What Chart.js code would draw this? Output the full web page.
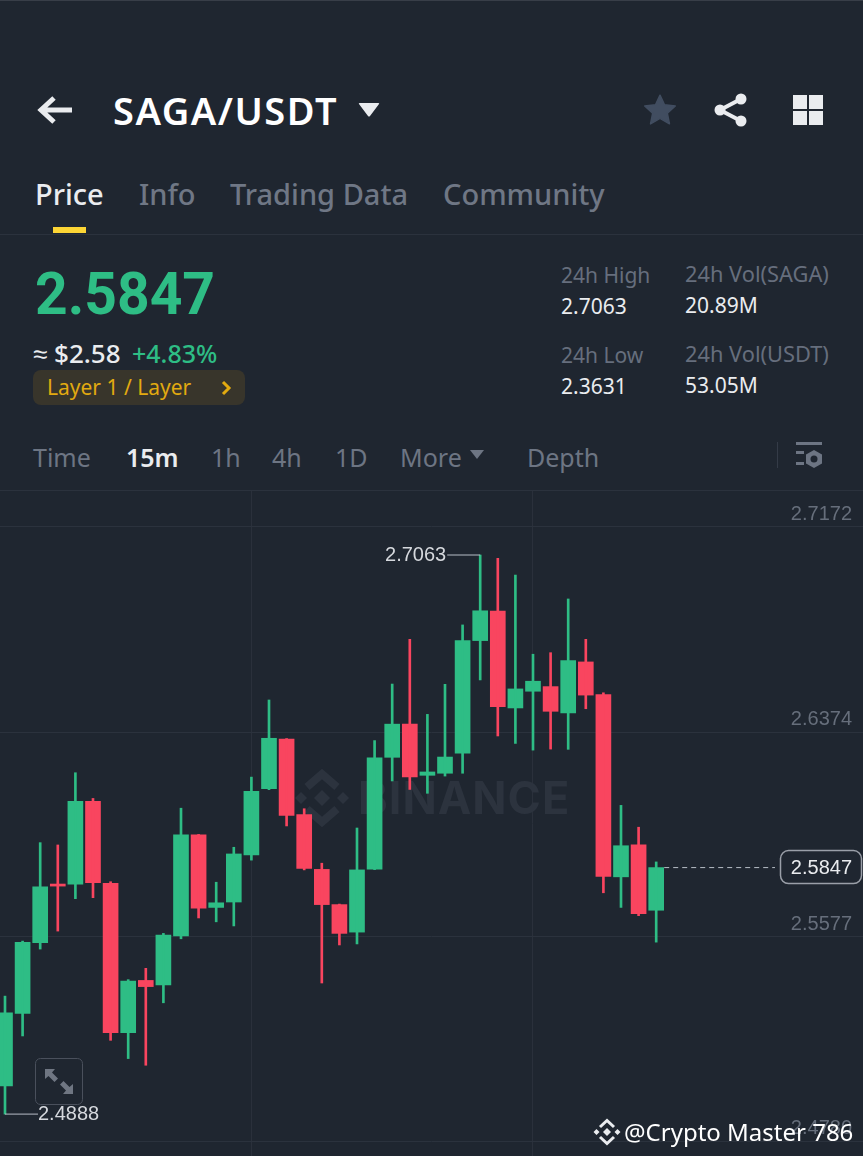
<!DOCTYPE html>
<html>
<head>
<meta charset="utf-8">
<script src="https://cdn.jsdelivr.net/npm/chart.js@4"></script>
<style>
  html, body { margin: 0; padding: 0; background: #1f2630; }
  body { position: relative; width: 863px; height: 1156px; overflow: hidden; font-family: "Noto Sans", sans-serif; }
  .t { position: absolute; transform: translateY(-50%); line-height: 1; white-space: nowrap; }
  .rule { position: absolute; left: 0; width: 863px; height: 1px; background: #2b323d; }
  svg { position: absolute; }
  #chart { position: absolute; left: 0; top: 491px; }
  .tab { font-size: 29px; color: #6f7785; font-weight: 500; }
  .lab { font-size: 21.8px; color: #666e7d; }
  .val { font-size: 21px; color: #eaecef; font-weight: 400; }
  .tf { font-size: 25px; color: #6d7583; }
</style>
</head>
<body>

<div class="rule" style="top:0;background:#383e48"></div>
<svg style="left:36px;top:94px" width="40" height="32" viewBox="0 0 40 32"><path d="M18 4 L5 16 L18 28 M5 16 H36" fill="none" stroke="#eaecef" stroke-width="5"/></svg>
<div class="t" style="left:113px;top:110px;font-size:38px;font-weight:600;color:#fff;letter-spacing:1.5px">SAGA/USDT</div>
<svg style="left:358px;top:102px" width="22" height="16"><path d="M1 2 Q0 1 2 1 H20 Q22 1 21 2 L12 14 Q11 15 10 14 Z" fill="#eaecef"/></svg>
<svg style="left:643px;top:93px" width="34" height="34" viewBox="0 0 24 24"><path d="M12 1.5 L15.2 8.3 L22.8 9.2 L17.2 14.3 L18.7 21.8 L12 18 L5.3 21.8 L6.8 14.3 L1.2 9.2 L8.8 8.3 Z" fill="#414d60" stroke="#414d60" stroke-linejoin="round"/></svg>
<svg style="left:714px;top:93px" width="34" height="34" viewBox="0 0 34 34"><path d="M27 6 L6 17 L27 28" fill="none" stroke="#eaecef" stroke-width="4"/><circle cx="27" cy="6" r="5.5" fill="#eaecef"/><circle cx="27" cy="28" r="5.5" fill="#eaecef"/><circle cx="6" cy="17" r="5.5" fill="#eaecef"/></svg>
<svg style="left:793px;top:95px" width="31" height="31"><path d="M0 0h14v14H0zM16 0h14v14H16zM0 16h14v14H0zM16 16h14v14H16z" fill="#eaecef"/></svg>

<div class="t tab" style="left:35px;top:193px;color:#eaecef">Price</div>
<div class="t tab" style="left:139px;top:193px">Info</div>
<div class="t tab" style="left:230px;top:193px">Trading Data</div>
<div class="t tab" style="left:443px;top:193px">Community</div>
<div style="position:absolute;left:53px;top:227px;width:33px;height:6px;background:#fcd535"></div>
<div class="rule" style="top:234px"></div>

<div class="t" style="left:35px;top:294px;font-family:Roboto;font-size:60px;font-weight:700;color:#2ebd85;transform:translateY(-50%) scaleX(.95);transform-origin:left">2.5847</div>
<div class="t" style="left:33px;top:353px;font-size:26px;font-weight:500;color:#eaecef">≈ $2.58</div>
<div class="t" style="left:132px;top:353px;font-size:25px;font-weight:500;color:#2ebd85">+4.83%</div>
<div style="position:absolute;left:33px;top:370px;width:212px;height:35px;border-radius:8px;background:#38352b"></div>
<div class="t" style="left:47px;top:387px;font-size:21px;color:#e2aa10">Layer 1 / Layer</div>
<svg style="left:221px;top:380px" width="12" height="16"><path d="M2 2 L8 8 L2 14" fill="none" stroke="#e2aa10" stroke-width="3"/></svg>

<div class="t lab" style="left:561px;top:275px;font-size:21px">24h High</div>
<div class="t val" style="left:561px;top:306px">2.7063</div>
<div class="t lab" style="left:561px;top:355px;font-size:21px">24h Low</div>
<div class="t val" style="left:561px;top:386px">2.3631</div>
<div class="t lab" style="left:685px;top:274px">24h Vol(SAGA)</div>
<div class="t val" style="left:685px;top:305px">20.89M</div>
<div class="t lab" style="left:685px;top:354px">24h Vol(USDT)</div>
<div class="t val" style="left:685px;top:385px">53.05M</div>

<div class="t tf" style="left:33px;top:457px">Time</div>
<div class="t tf" style="left:126px;top:457px;color:#eaecef;font-weight:600">15m</div>
<div class="t tf" style="left:211px;top:457px">1h</div>
<div class="t tf" style="left:272px;top:457px">4h</div>
<div class="t tf" style="left:335px;top:457px">1D</div>
<div class="t tf" style="left:400px;top:457px">More</div>
<svg style="left:469px;top:449px" width="16" height="12"><path d="M1 1 H15 L8 10 Z" fill="#6d7583"/></svg>
<div class="t tf" style="left:527px;top:457px">Depth</div>
<div style="position:absolute;left:777px;top:442px;width:1px;height:26px;background:#343b47"></div>
<svg style="left:796px;top:442px" width="27" height="28"><path d="M0 0h26v3H0zM0 9h8v3H0zM0 20h8v3H0z" fill="#6d7583"/><path d="M18 8 L26 12.5 V21.5 L18 26 L10 21.5 V12.5 Z" fill="#6d7583"/><circle cx="18" cy="17" r="3.5" fill="#1f2630"/></svg>
<div class="rule" style="top:490px"></div>

<canvas id="chart" width="863" height="665"></canvas>

<svg style="left:35px;top:1058px" width="49" height="48"><rect x="0.5" y="0.5" width="47" height="46" rx="5" fill="#1f2630" stroke="#4a505c"/><path d="M10 11 H20 L17 14.5 L23 20.5 L19.5 24 L13.5 18 L10 21 Z M38 36 H28 L31 32.5 L25 26.5 L28.5 23 L34.5 29 L38 26 Z" fill="#6f7682"/></svg>

<svg style="left:592px;top:1117px" width="30" height="30" viewBox="0 0 30 30"><g fill="none" stroke="#eaecef" stroke-width="3"><path d="M8 10 L15 3.5 L22 10"/><path d="M8 20 L15 26.5 L22 20"/></g><path d="M15 11 L19 15 L15 19 L11 15 Z M4.5 12 L7.5 15 L4.5 18 L1.5 15 Z M25.5 12 L28.5 15 L25.5 18 L22.5 15 Z" fill="#eaecef"/></svg>
<div class="t" style="left:624px;top:1132px;font-size:24px;color:#fff">@Crypto Master 786</div>

<script>
// 15m candles
const candleIndex = [0,1,2,3,4,5,6,7,8,9,10,11,12,13,14,15,16,17,18,19,20,21,22,23,24,25,26,27,28,29,30,31,32,33,34,35,36,37];
const opens  = [2.4998,2.5280,2.5555,2.5783,2.5782,2.6105,2.5786,2.5205,2.5408,2.5391,2.5581,2.5974,2.5692,2.5713,2.5896,2.6154,2.6347,2.6053,2.5840,2.5703,2.5596,2.5841,2.6276,2.6405,2.6206,2.6214,2.6292,2.6730,2.6845,2.6468,2.6533,2.6551,2.6449,2.6647,2.6520,2.5811,2.5936,2.5681];
const highs  = [2.5347,2.5561,2.5944,2.5935,2.6216,2.6116,2.5792,2.5411,2.5455,2.5591,2.6078,2.5976,2.5790,2.5926,2.6199,2.6499,2.6349,2.6076,2.5864,2.5705,2.6001,2.6341,2.6561,2.6735,2.6443,2.6560,2.6791,2.7063,2.7050,2.6985,2.6677,2.6683,2.6892,2.6735,2.6527,2.6089,2.6004,2.5869];
const lows   = [2.4888,2.5192,2.5530,2.5600,2.5726,2.5730,2.5175,2.5104,2.5078,2.5321,2.5570,2.5651,2.5636,2.5620,2.5876,2.6150,2.6009,2.5838,2.5398,2.5546,2.5550,2.5839,2.6184,2.6151,2.6136,2.6203,2.6214,2.6577,2.6359,2.6330,2.6304,2.6308,2.6307,2.6465,2.5749,2.5692,2.5660,2.5557];
const closes = [2.5282,2.5556,2.5772,2.5775,2.6105,2.5788,2.5205,2.5405,2.5384,2.5584,2.5974,2.5689,2.5710,2.5900,2.6144,2.6350,2.6050,2.5844,2.5703,2.5591,2.5838,2.6274,2.6405,2.6200,2.6219,2.6277,2.6730,2.6846,2.6473,2.6542,2.6572,2.6455,2.6652,2.6518,2.5813,2.5932,2.5668,2.5847];
const priceTicks = [2.7172,2.6374,2.5577,2.4780];
const timeGrid = [14,30];
const highLabel = "2.7063";
const lowLabel = "2.4888";
const lastLabel = "2.5847";

const GREEN = '#2ebd85';
const RED = '#f9455f';
const LABEL_FONT = '20px "Liberation Sans"';
const candleColors = opens.map((o,i) => closes[i] >= o ? GREEN : RED);

const watermark = {
  id: 'watermark',
  beforeDatasetsDraw(chart){
    const c = chart.ctx;
    c.save();
    c.fillStyle = '#2c333e';
    c.strokeStyle = '#2c333e';
    const cx = 322, cy = 307;
    const diamond = (x,y,r) => { c.beginPath(); c.moveTo(x,y-r); c.lineTo(x+r,y); c.lineTo(x,y+r); c.lineTo(x-r,y); c.fill(); };
    diamond(cx,cy,8); diamond(cx-21,cy,6); diamond(cx+21,cy,6);
    c.lineWidth = 8;
    c.beginPath(); c.moveTo(cx-15,cy-11); c.lineTo(cx,cy-24); c.lineTo(cx+15,cy-11); c.stroke();
    c.beginPath(); c.moveTo(cx-15,cy+11); c.lineTo(cx,cy+24); c.lineTo(cx+15,cy+11); c.stroke();
    c.font = '700 45px Inter';
    c.letterSpacing = '1px';
    c.textBaseline = 'middle';
    c.fillText('BINANCE', 358, cy+2);
    c.restore();
  }
};

const priceMarks = {
  id: 'priceMarks',
  afterDatasetsDraw(chart){
    const c = chart.ctx, x = chart.scales.x, y = chart.scales.y;
    c.save();
    c.font = LABEL_FONT;
    c.textBaseline = 'middle';

    // high marker
    const hi = highs.indexOf(Math.max(...highs));
    const hx = x.getPixelForValue(hi), hy = y.getPixelForValue(highs[hi]);
    c.strokeStyle = '#b7bdc6';
    c.beginPath(); c.moveTo(hx, hy); c.lineTo(hx-33, hy); c.stroke();
    c.fillStyle = '#d5d8dd';
    c.textAlign = 'right';
    c.fillText(highLabel, hx-34, hy);

    // low marker
    const lo = lows.indexOf(Math.min(...lows));
    const lx = x.getPixelForValue(lo), ly = y.getPixelForValue(lows[lo]);
    c.beginPath(); c.moveTo(lx, ly); c.lineTo(lx+33, ly); c.stroke();
    c.textAlign = 'left';
    c.fillText(lowLabel, lx+33, ly);

    // last price line and box
    const last = closes.length-1;
    const px = x.getPixelForValue(last)+8, py = y.getPixelForValue(closes[last]);
    c.setLineDash([5,4]);
    c.beginPath(); c.moveTo(px, py); c.lineTo(775, py); c.stroke();
    c.setLineDash([]);
    c.strokeStyle = '#9a9fa8';
    c.fillStyle = '#1f2630';
    c.lineWidth = 1.5;
    c.beginPath(); c.roundRect(780.5, py-17, 81, 33, 8); c.fill(); c.stroke();
    c.fillStyle = '#eaecef';
    c.textAlign = 'right';
    c.fillText(lastLabel, 852, py+1);
    c.restore();
  }
};

const ctx = document.getElementById('chart').getContext('2d');
new Chart(ctx, {
  type: 'bar',
  data: {
    datasets: [
      {
        label: 'Wick',
        data: candleIndex.map((x,i) => ({x: x, y: [lows[i], highs[i]]})),
        backgroundColor: candleColors,
        barThickness: 2,
      },
      {
        label: 'Body',
        data: candleIndex.map((x,i) => ({x: x, y: [opens[i], closes[i]]})),
        backgroundColor: candleColors,
        barThickness: 15,
      }
    ]
  },
  options: {
    responsive: false,
    animation: false,
    layout: { padding: 0, autoPadding: false },
    datasets: { bar: { grouped: false } },
    plugins: { legend: { display: false }, tooltip: { enabled: false } },
    scales: {
      x: {
        type: 'linear',
        offset: false,
        min: -0.284,
        max: 48.75,
        grid: { color: '#2a303b', offset: false, drawTicks: false },
        border: { display: false },
        ticks: { display: false },
        afterBuildTicks(scale){ scale.ticks = timeGrid.map(v => ({value: v})); }
      },
      y: {
        position: 'right',
        min: 2.4725,
        max: 2.7312,
        grid: { color: '#2b323d', drawTicks: false },
        border: { display: false },
        afterFit(scale){
          scale.width = 0;
          scale.paddingTop = 0;
          scale.paddingBottom = 0;
        },
        afterBuildTicks(scale){ scale.ticks = priceTicks.map(v => ({value: v})); },
        ticks: {
          mirror: true,
          padding: -11,
          labelOffset: -13,
          color: '#666e7b',
          font: { family: 'Liberation Sans', size: 20 },
          callback: v => v.toFixed(4)
        }
      }
    }
  },
  plugins: [watermark, priceMarks]
});
</script>
</body>
</html>
